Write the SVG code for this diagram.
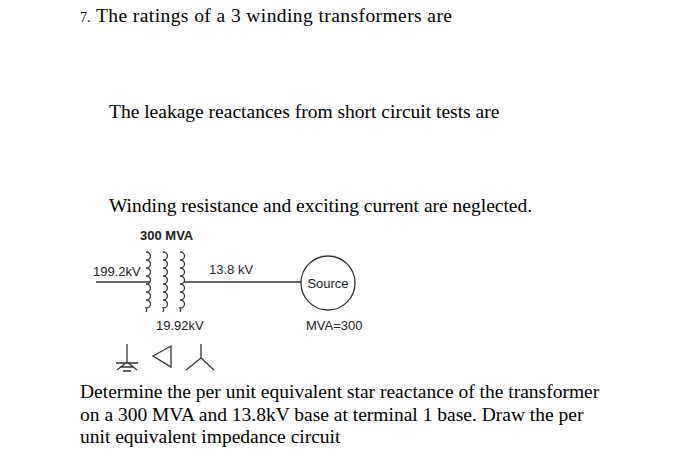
<svg xmlns="http://www.w3.org/2000/svg" width="700" height="468" viewBox="0 0 700 468">
<style>
.t{font-family:"Liberation Serif",serif;font-size:19.5px;fill:#000}
.s{font-family:"Liberation Sans",sans-serif;font-size:13px;fill:#222}
.w{fill:none;stroke:#333;stroke-width:1.3}
</style>
<rect width="700" height="468" fill="#fff"/>
<text class="t" x="80" y="22"><tspan font-size="14">7.</tspan></text>
<text class="t" x="96" y="22" textLength="356" font-size="20">The ratings of a 3 winding transformers are</text>
<text class="t" x="109" y="118">The leakage reactances from short circuit tests are</text>
<text class="t" x="109" y="212">Winding resistance and exciting current are neglected.</text>
<g id="xfmr">
<text class="s" x="140" y="240" font-weight="bold">300 MVA</text>
<text class="s" x="93" y="276">199.2kV</text>
<text class="s" x="209" y="274" font-size="11.5">13.8 kV</text>
<text class="s" x="156" y="330">19.92kV</text>
<path class="w" d="M146,252 a4.5,4 0 0 1 0,8 a4.5,4 0 0 1 0,8 a4.5,4 0 0 1 0,8 a4.5,4 0 0 1 0,8 a4.5,4 0 0 1 0,8 a4.5,4 0 0 1 0,8 a4.5,4 0 0 1 0,8 a4.5,4 0 0 1 0,4"/>
<path class="w" d="M163,252 a4.5,4 0 0 1 0,8 a4.5,4 0 0 1 0,8 a4.5,4 0 0 1 0,8 a4.5,4 0 0 1 0,8 a4.5,4 0 0 1 0,8 a4.5,4 0 0 1 0,8 a4.5,4 0 0 1 0,8 a4.5,4 0 0 1 0,4"/>
<path class="w" d="M180,252 a4.5,4 0 0 1 0,8 a4.5,4 0 0 1 0,8 a4.5,4 0 0 1 0,8 a4.5,4 0 0 1 0,8 a4.5,4 0 0 1 0,8 a4.5,4 0 0 1 0,8 a4.5,4 0 0 1 0,8 a4.5,4 0 0 1 0,4"/>
</g>
<g id="source">
<circle class="w" cx="328" cy="283" r="27"/>
<text class="s" x="328" y="288" text-anchor="middle">Source</text>
<text class="s" x="306" y="330">MVA=300</text>
</g>
<g id="connectors">
<line class="w" x1="96" y1="282" x2="150" y2="282"/>
<line class="w" x1="184" y1="282" x2="301" y2="282"/>
</g>
<g id="symbols" class="w">
<path d="M127,344 V362 M127,362 L117,370 M127,362 L137,370 M116,363 H138 M120,367 H134 M123,371 H131"/>
<path d="M153,356 L171,346 V367 Z"/>
<path d="M201,344 V358 L186,370 M201,358 L214,370"/>
</g>
<text class="t" x="80" y="398">Determine the per unit equivalent star reactance of the transformer</text>
<text class="t" x="80" y="421">on a 300 MVA and 13.8kV base at terminal 1 base. Draw the per</text>
<text class="t" x="80" y="443">unit equivalent impedance circuit</text>
</svg>
